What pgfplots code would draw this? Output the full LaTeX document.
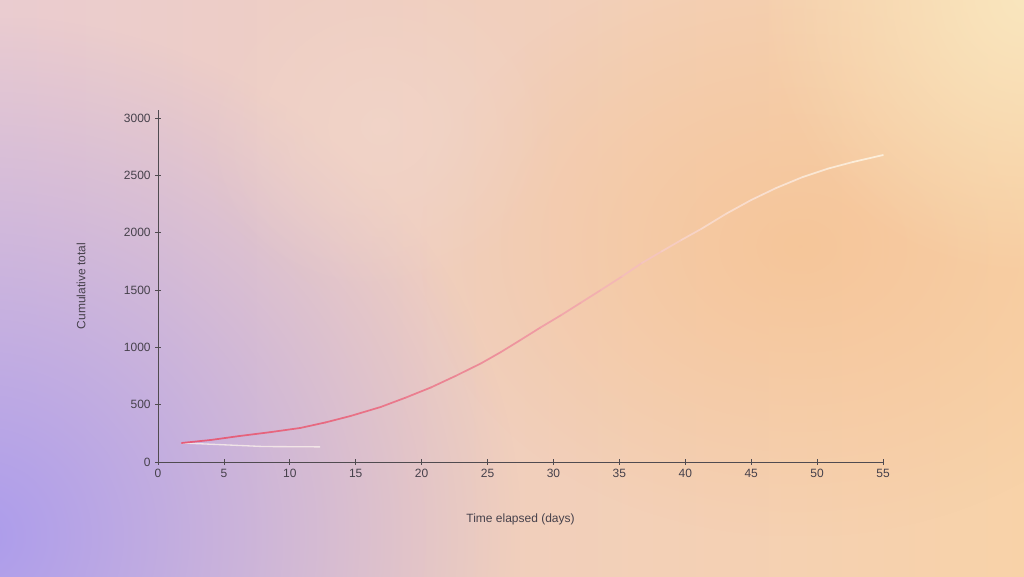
\documentclass[border=0pt]{standalone}
\usepackage{fontspec}
\setmainfont{Liberation Sans}
\usepackage{pgfplots}
\pgfplotsset{compat=1.18}
\usetikzlibrary{fadings}
\tikzfading[name=softglow, inner color=transparent!0, outer color=transparent!100]
\definecolor{axisgray}{RGB}{80,75,80}
\definecolor{tickgray}{RGB}{70,65,75}
\begin{document}
\begin{tikzpicture}[x=0.75pt,y=0.75pt]
\path[use as bounding box] (0,0) rectangle (1024,576);
% background (1024 x 576 px)
\begin{scope}
\clip (0,0) rectangle (1024,576);
\fill[left color={rgb,255:red,234;green,204;blue,208}, right color={rgb,255:red,248;green,210;blue,168}] (0,0) rectangle (1024,576);
\fill[color={rgb,255:red,246;green,196;blue,150}, path fading=softglow, opacity=0.85] (420,40) rectangle (1180,620);
\fill[color={rgb,255:red,172;green,156;blue,236}, path fading=softglow] (-560,-480) rectangle (520,560);
\fill[color={rgb,255:red,250;green,230;blue,190}, path fading=softglow] (760,300) rectangle (1290,860);
\fill[color={rgb,255:red,242;green,214;blue,202}, path fading=softglow, opacity=0.7] (200,280) rectangle (560,620);
\end{scope}
\begin{axis}[
  at={(118.5pt,85.5pt)}, anchor=origin,
  scale only axis,
  width=543.75pt, height=264pt,
  xmin=0, xmax=55, ymin=0, ymax=3070,
  axis lines=left,
  axis line style={draw=axisgray, line width=0.6pt, -},
  xtick={0,5,...,55},
  ytick={0,500,...,3000},
  tick style={draw=axisgray, line width=0.5pt},
  major tick length=4pt,
  tick label style={font=\small, text=tickgray},
  /pgf/number format/assume math mode=true,
  /pgf/number format/1000 sep={},
  xlabel={Time elapsed (days)},
  ylabel={Cumulative total},
  label style={font=\small, text=tickgray},
  xlabel style={yshift=-20pt},
  ylabel style={yshift=22pt},
  clip=false,
]
\addplot[draw={rgb,255:red,250;green,240;blue,235}, line width=1pt, opacity=0.8] coordinates {
  (1.8,166) (5.0,150) (8.0,135) (12.3,132)
};
\addplot[mesh, point meta=x, point meta min=0, point meta max=55,
  colormap={redfade}{rgb255=(228,88,118) rgb255=(232,108,130) rgb255=(238,150,160) rgb255=(248,215,200) rgb255=(252,240,220)},
  line width=1.3pt, line join=round, line cap=round] coordinates {
  (1.8,166) (4.0,192) (6.2,227) (8.5,260) (10.8,297) (12.7,345) (14.6,401)
  (16.9,480) (18.8,562) (20.7,650) (22.6,752) (24.5,860) (26.0,958)
  (27.5,1064) (29.0,1172) (30.6,1282) (32.1,1391) (33.6,1500) (35.2,1618)
  (36.7,1735) (38.2,1836) (39.7,1936) (41.2,2032) (43.1,2165) (45.0,2285)
  (46.9,2390) (48.9,2485) (50.8,2558) (52.7,2616) (55.0,2677)
};
\end{axis}
\end{tikzpicture}
\end{document}
